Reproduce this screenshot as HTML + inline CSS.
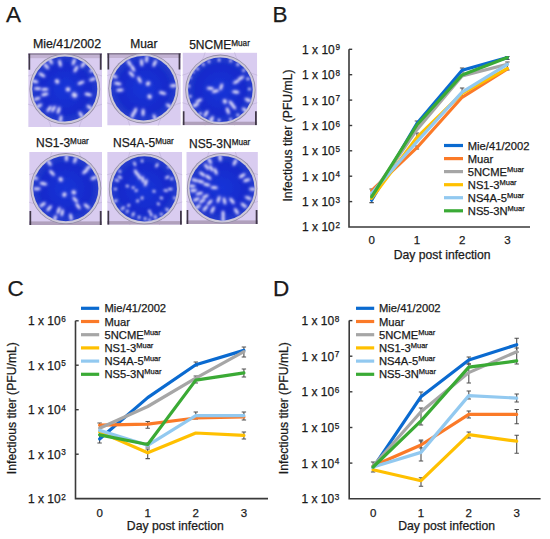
<!DOCTYPE html>
<html><head><meta charset="utf-8"><style>
html,body{margin:0;padding:0;background:#fff;}
body{width:550px;height:539px;overflow:hidden;}
svg{display:block;font-family:"Liberation Sans", sans-serif;} text{stroke:#1a1a1a;stroke-width:0.25px;}
</style></head><body>
<svg width="550" height="539" viewBox="0 0 550 539">
<text x="6" y="22.2" font-size="22.5" text-anchor="start" fill="#1a1a1a" >A</text>
<text x="272.5" y="22.2" font-size="22.5" text-anchor="start" fill="#1a1a1a" >B</text>
<text x="7.5" y="295.8" font-size="22.5" text-anchor="start" fill="#1a1a1a" >C</text>
<text x="273" y="295.8" font-size="22.5" text-anchor="start" fill="#1a1a1a" >D</text>
<defs><filter id="bl" x="-50%" y="-50%" width="200%" height="200%"><feGaussianBlur stdDeviation="1.0"/></filter><filter id="bl3" x="-50%" y="-50%" width="200%" height="200%"><feGaussianBlur stdDeviation="1.4"/></filter><filter id="bl2" x="-10%" y="-10%" width="120%" height="120%"><feGaussianBlur stdDeviation="0.6"/></filter><radialGradient id="bg" cx="50%" cy="50%" r="50%"><stop offset="0" stop-color="#1834d8"/><stop offset="0.75" stop-color="#122acc"/><stop offset="1" stop-color="#263ccc"/></radialGradient></defs>
<clipPath id="cp0"><rect x="28.2" y="53.2" width="73.8" height="73.8"/></clipPath><g clip-path="url(#cp0)">
<rect x="28.2" y="53.2" width="73.8" height="73.8" fill="#d9ccf0"/>
<g fill="none" stroke="#c4b8dc" stroke-width="0.8"><circle cx="20.2" cy="45.2" r="31.9"/><circle cx="110" cy="45.2" r="31.9"/><circle cx="20.2" cy="135" r="31.9"/><circle cx="110" cy="135" r="31.9"/></g>
<rect x="28.2" y="53.2" width="73.8" height="5" fill="#c2b2d2"/>
<rect x="28.2" y="53.2" width="73.8" height="1.6" fill="#8c8098"/>
<path d="M29.3,53.7 V69.7 M100.7,53.7 V69.7" stroke="#403848" stroke-width="1.8"/>
<circle cx="64.8" cy="89" r="35.4" fill="#938ca6"/>
<circle cx="64.8" cy="89" r="34.6" fill="#cdc8d8"/>
<circle cx="64.8" cy="89" r="32.5" fill="url(#bg)" filter="url(#bl2)"/>
<clipPath id="cc0"><circle cx="64.8" cy="89" r="33.2"/></clipPath><g clip-path="url(#cc0)">
<g fill="#5a64e0" opacity="0.7" filter="url(#bl3)"><ellipse cx="60.0" cy="63.3" rx="4.9" ry="2.7" transform="rotate(-101 60.0 63.3)"/><ellipse cx="73.8" cy="61.9" rx="4.9" ry="2.7" transform="rotate(-72 73.8 61.9)"/><ellipse cx="75.9" cy="69.1" rx="4.9" ry="2.7" transform="rotate(-61 75.9 69.1)"/><ellipse cx="83.2" cy="64.7" rx="4.9" ry="2.7" transform="rotate(-53 83.2 64.7)"/><ellipse cx="46.3" cy="66.2" rx="4.9" ry="2.7" transform="rotate(-129 46.3 66.2)"/><ellipse cx="41.9" cy="74.9" rx="4.9" ry="2.7" transform="rotate(-148 41.9 74.9)"/><ellipse cx="57.1" cy="81.4" rx="3.2" ry="3.4" transform="rotate(-135 57.1 81.4)"/><ellipse cx="81.0" cy="82.8" rx="4.9" ry="2.7" transform="rotate(-21 81.0 82.8)"/><ellipse cx="92.6" cy="79.2" rx="4.9" ry="2.7" transform="rotate(-19 92.6 79.2)"/><ellipse cx="68.0" cy="89.4" rx="3.2" ry="3.4" transform="rotate(6 68.0 89.4)"/><ellipse cx="74.5" cy="95.1" rx="4.0" ry="4.2" transform="rotate(32 74.5 95.1)"/><ellipse cx="88.2" cy="94.4" rx="4.9" ry="2.7" transform="rotate(13 88.2 94.4)"/><ellipse cx="34.7" cy="81.4" rx="4.9" ry="2.7" transform="rotate(-166 34.7 81.4)"/><ellipse cx="37.6" cy="88.6" rx="4.9" ry="2.7" transform="rotate(-179 37.6 88.6)"/><ellipse cx="44.8" cy="89.4" rx="4.9" ry="2.7" transform="rotate(179 44.8 89.4)"/><ellipse cx="44.8" cy="94.4" rx="4.9" ry="2.7" transform="rotate(165 44.8 94.4)"/><ellipse cx="36.9" cy="98.8" rx="4.9" ry="2.7" transform="rotate(161 36.9 98.8)"/><ellipse cx="49.2" cy="108.9" rx="4.9" ry="2.7" transform="rotate(128 49.2 108.9)"/><ellipse cx="53.5" cy="108.9" rx="4.9" ry="2.7" transform="rotate(120 53.5 108.9)"/><ellipse cx="58.6" cy="110.3" rx="4.9" ry="2.7" transform="rotate(106 58.6 110.3)"/><ellipse cx="81.0" cy="114.7" rx="4.9" ry="2.7" transform="rotate(58 81.0 114.7)"/><ellipse cx="89.7" cy="107.4" rx="4.9" ry="2.7" transform="rotate(37 89.7 107.4)"/><ellipse cx="39.0" cy="106.0" rx="4.9" ry="2.7" transform="rotate(147 39.0 106.0)"/><ellipse cx="60.7" cy="119.0" rx="4.9" ry="2.7" transform="rotate(98 60.7 119.0)"/><ellipse cx="50.6" cy="61.1" rx="4.9" ry="2.7" transform="rotate(-117 50.6 61.1)"/><ellipse cx="92.6" cy="69.8" rx="4.9" ry="2.7" transform="rotate(-35 92.6 69.8)"/></g>
<g fill="#d0d0f4" filter="url(#bl)"><ellipse cx="60.0" cy="63.3" rx="3.3" ry="1.4" transform="rotate(-101 60.0 63.3)"/><ellipse cx="73.8" cy="61.9" rx="3.3" ry="1.4" transform="rotate(-72 73.8 61.9)"/><ellipse cx="75.9" cy="69.1" rx="3.3" ry="1.4" transform="rotate(-61 75.9 69.1)"/><ellipse cx="83.2" cy="64.7" rx="3.3" ry="1.4" transform="rotate(-53 83.2 64.7)"/><ellipse cx="46.3" cy="66.2" rx="3.3" ry="1.4" transform="rotate(-129 46.3 66.2)"/><ellipse cx="41.9" cy="74.9" rx="3.3" ry="1.4" transform="rotate(-148 41.9 74.9)"/><ellipse cx="57.1" cy="81.4" rx="2.2" ry="1.8" transform="rotate(-135 57.1 81.4)"/><ellipse cx="81.0" cy="82.8" rx="3.3" ry="1.4" transform="rotate(-21 81.0 82.8)"/><ellipse cx="92.6" cy="79.2" rx="3.3" ry="1.4" transform="rotate(-19 92.6 79.2)"/><ellipse cx="68.0" cy="89.4" rx="2.2" ry="1.8" transform="rotate(6 68.0 89.4)"/><ellipse cx="74.5" cy="95.1" rx="2.7" ry="2.2" transform="rotate(32 74.5 95.1)"/><ellipse cx="88.2" cy="94.4" rx="3.3" ry="1.4" transform="rotate(13 88.2 94.4)"/><ellipse cx="34.7" cy="81.4" rx="3.3" ry="1.4" transform="rotate(-166 34.7 81.4)"/><ellipse cx="37.6" cy="88.6" rx="3.3" ry="1.4" transform="rotate(-179 37.6 88.6)"/><ellipse cx="44.8" cy="89.4" rx="3.3" ry="1.4" transform="rotate(179 44.8 89.4)"/><ellipse cx="44.8" cy="94.4" rx="3.3" ry="1.4" transform="rotate(165 44.8 94.4)"/><ellipse cx="36.9" cy="98.8" rx="3.3" ry="1.4" transform="rotate(161 36.9 98.8)"/><ellipse cx="49.2" cy="108.9" rx="3.3" ry="1.4" transform="rotate(128 49.2 108.9)"/><ellipse cx="53.5" cy="108.9" rx="3.3" ry="1.4" transform="rotate(120 53.5 108.9)"/><ellipse cx="58.6" cy="110.3" rx="3.3" ry="1.4" transform="rotate(106 58.6 110.3)"/><ellipse cx="81.0" cy="114.7" rx="3.3" ry="1.4" transform="rotate(58 81.0 114.7)"/><ellipse cx="89.7" cy="107.4" rx="3.3" ry="1.4" transform="rotate(37 89.7 107.4)"/><ellipse cx="39.0" cy="106.0" rx="3.3" ry="1.4" transform="rotate(147 39.0 106.0)"/><ellipse cx="60.7" cy="119.0" rx="3.3" ry="1.4" transform="rotate(98 60.7 119.0)"/><ellipse cx="50.6" cy="61.1" rx="3.3" ry="1.4" transform="rotate(-117 50.6 61.1)"/><ellipse cx="92.6" cy="69.8" rx="3.3" ry="1.4" transform="rotate(-35 92.6 69.8)"/></g></g></g>
<text x="32.9" y="48.1" font-size="12.4" text-anchor="start" fill="#1a1a1a" >Mie/41/2002</text>
<clipPath id="cp1"><rect x="107.2" y="53" width="73.6" height="72.5"/></clipPath><g clip-path="url(#cp1)">
<rect x="107.2" y="53" width="73.6" height="72.5" fill="#d9ccf0"/>
<g fill="none" stroke="#c4b8dc" stroke-width="0.8"><circle cx="99.2" cy="45" r="31.7"/><circle cx="188.8" cy="45" r="31.7"/><circle cx="99.2" cy="133.5" r="31.7"/><circle cx="188.8" cy="133.5" r="31.7"/></g>
<rect x="107.2" y="53" width="73.6" height="5" fill="#c2b2d2"/>
<rect x="107.2" y="53" width="73.6" height="1.6" fill="#8c8098"/>
<path d="M108.3,53.5 V69.5 M179.5,53.5 V69.5" stroke="#403848" stroke-width="1.8"/>
<circle cx="143.5" cy="88.2" r="35.2" fill="#938ca6"/>
<circle cx="143.5" cy="88.2" r="34.4" fill="#cdc8d8"/>
<circle cx="143.5" cy="88.2" r="32.3" fill="url(#bg)" filter="url(#bl2)"/>
<clipPath id="cc1"><circle cx="143.5" cy="88.2" r="33.0"/></clipPath><g clip-path="url(#cc1)">
<g fill="#5a64e0" opacity="0.7" filter="url(#bl3)"><ellipse cx="132.9" cy="68.4" rx="4.9" ry="2.7" transform="rotate(-118 132.9 68.4)"/><ellipse cx="131.5" cy="74.2" rx="4.9" ry="2.7" transform="rotate(-131 131.5 74.2)"/><ellipse cx="129.3" cy="63.3" rx="4.9" ry="2.7" transform="rotate(-120 129.3 63.3)"/><ellipse cx="141.6" cy="62.6" rx="4.9" ry="2.7" transform="rotate(-94 141.6 62.6)"/><ellipse cx="146.7" cy="59.0" rx="4.9" ry="2.7" transform="rotate(-84 146.7 59.0)"/><ellipse cx="154.7" cy="63.3" rx="4.9" ry="2.7" transform="rotate(-66 154.7 63.3)"/><ellipse cx="114.1" cy="76.3" rx="4.9" ry="2.7" transform="rotate(-158 114.1 76.3)"/><ellipse cx="117.7" cy="83.6" rx="4.9" ry="2.7" transform="rotate(-170 117.7 83.6)"/><ellipse cx="119.9" cy="90.1" rx="4.9" ry="2.7" transform="rotate(175 119.9 90.1)"/><ellipse cx="139.5" cy="79.9" rx="4.9" ry="2.7" transform="rotate(-116 139.5 79.9)"/><ellipse cx="148.1" cy="83.6" rx="3.2" ry="3.4" transform="rotate(-45 148.1 83.6)"/><ellipse cx="173.5" cy="85.7" rx="4.9" ry="2.7" transform="rotate(-5 173.5 85.7)"/><ellipse cx="162.6" cy="93.0" rx="4.9" ry="2.7" transform="rotate(14 162.6 93.0)"/><ellipse cx="149.6" cy="96.6" rx="3.2" ry="3.4" transform="rotate(54 149.6 96.6)"/><ellipse cx="135.1" cy="111.1" rx="4.9" ry="2.7" transform="rotate(110 135.1 111.1)"/><ellipse cx="143.1" cy="112.5" rx="4.9" ry="2.7" transform="rotate(91 143.1 112.5)"/><ellipse cx="154.7" cy="117.6" rx="4.9" ry="2.7" transform="rotate(69 154.7 117.6)"/><ellipse cx="132.9" cy="114.7" rx="4.9" ry="2.7" transform="rotate(112 132.9 114.7)"/><ellipse cx="169.1" cy="106.0" rx="4.9" ry="2.7" transform="rotate(35 169.1 106.0)"/></g>
<g fill="#d0d0f4" filter="url(#bl)"><ellipse cx="132.9" cy="68.4" rx="3.3" ry="1.4" transform="rotate(-118 132.9 68.4)"/><ellipse cx="131.5" cy="74.2" rx="3.3" ry="1.4" transform="rotate(-131 131.5 74.2)"/><ellipse cx="129.3" cy="63.3" rx="3.3" ry="1.4" transform="rotate(-120 129.3 63.3)"/><ellipse cx="141.6" cy="62.6" rx="3.3" ry="1.4" transform="rotate(-94 141.6 62.6)"/><ellipse cx="146.7" cy="59.0" rx="3.3" ry="1.4" transform="rotate(-84 146.7 59.0)"/><ellipse cx="154.7" cy="63.3" rx="3.3" ry="1.4" transform="rotate(-66 154.7 63.3)"/><ellipse cx="114.1" cy="76.3" rx="3.3" ry="1.4" transform="rotate(-158 114.1 76.3)"/><ellipse cx="117.7" cy="83.6" rx="3.3" ry="1.4" transform="rotate(-170 117.7 83.6)"/><ellipse cx="119.9" cy="90.1" rx="3.3" ry="1.4" transform="rotate(175 119.9 90.1)"/><ellipse cx="139.5" cy="79.9" rx="3.3" ry="1.4" transform="rotate(-116 139.5 79.9)"/><ellipse cx="148.1" cy="83.6" rx="2.2" ry="1.8" transform="rotate(-45 148.1 83.6)"/><ellipse cx="173.5" cy="85.7" rx="3.3" ry="1.4" transform="rotate(-5 173.5 85.7)"/><ellipse cx="162.6" cy="93.0" rx="3.3" ry="1.4" transform="rotate(14 162.6 93.0)"/><ellipse cx="149.6" cy="96.6" rx="2.2" ry="1.8" transform="rotate(54 149.6 96.6)"/><ellipse cx="135.1" cy="111.1" rx="3.3" ry="1.4" transform="rotate(110 135.1 111.1)"/><ellipse cx="143.1" cy="112.5" rx="3.3" ry="1.4" transform="rotate(91 143.1 112.5)"/><ellipse cx="154.7" cy="117.6" rx="3.3" ry="1.4" transform="rotate(69 154.7 117.6)"/><ellipse cx="132.9" cy="114.7" rx="3.3" ry="1.4" transform="rotate(112 132.9 114.7)"/><ellipse cx="169.1" cy="106.0" rx="3.3" ry="1.4" transform="rotate(35 169.1 106.0)"/></g></g></g>
<text x="130.2" y="48.2" font-size="12" text-anchor="start" fill="#1a1a1a" >Muar</text>
<clipPath id="cp2"><rect x="182.5" y="52.6" width="74.7" height="72.7"/></clipPath><g clip-path="url(#cp2)">
<rect x="182.5" y="52.6" width="74.7" height="72.7" fill="#d9ccf0"/>
<g fill="none" stroke="#c4b8dc" stroke-width="0.8"><circle cx="174.5" cy="44.6" r="31.7"/><circle cx="265.2" cy="44.6" r="31.7"/><circle cx="174.5" cy="133.3" r="31.7"/><circle cx="265.2" cy="133.3" r="31.7"/></g>
<rect x="182.5" y="121.7" width="74.7" height="3.6" fill="#b0a0bc"/>
<path d="M183.6,125.3 V111.3 M255.89999999999998,125.3 V111.3" stroke="#403848" stroke-width="1.8"/>
<circle cx="220.4" cy="89.8" r="35.2" fill="#938ca6"/>
<circle cx="220.4" cy="89.8" r="34.4" fill="#cdc8d8"/>
<circle cx="220.4" cy="89.8" r="32.3" fill="url(#bg)" filter="url(#bl2)"/>
<clipPath id="cc2"><circle cx="220.4" cy="89.8" r="33.0"/></clipPath><g clip-path="url(#cc2)">
<g fill="#5a64e0" opacity="0.7" filter="url(#bl3)"><ellipse cx="197.4" cy="68.8" rx="2.2" ry="2.1" transform="rotate(-138 197.4 68.8)"/><ellipse cx="203.2" cy="64.5" rx="2.2" ry="2.1" transform="rotate(-124 203.2 64.5)"/><ellipse cx="208.9" cy="61.6" rx="2.2" ry="2.1" transform="rotate(-112 208.9 61.6)"/><ellipse cx="219.1" cy="60.1" rx="2.2" ry="2.1" transform="rotate(-93 219.1 60.1)"/><ellipse cx="230.7" cy="60.9" rx="2.2" ry="2.1" transform="rotate(-70 230.7 60.9)"/><ellipse cx="237.9" cy="64.5" rx="2.2" ry="2.1" transform="rotate(-55 237.9 64.5)"/><ellipse cx="243.7" cy="70.3" rx="2.2" ry="2.1" transform="rotate(-40 243.7 70.3)"/><ellipse cx="248.0" cy="78.9" rx="2.2" ry="2.1" transform="rotate(-21 248.0 78.9)"/><ellipse cx="249.5" cy="89.1" rx="2.2" ry="2.1" transform="rotate(-1 249.5 89.1)"/><ellipse cx="248.0" cy="100.7" rx="2.2" ry="2.1" transform="rotate(21 248.0 100.7)"/><ellipse cx="243.7" cy="109.3" rx="2.2" ry="2.1" transform="rotate(40 243.7 109.3)"/><ellipse cx="237.9" cy="115.1" rx="2.2" ry="2.1" transform="rotate(55 237.9 115.1)"/><ellipse cx="230.7" cy="119.5" rx="2.2" ry="2.1" transform="rotate(71 230.7 119.5)"/><ellipse cx="219.1" cy="120.2" rx="2.2" ry="2.1" transform="rotate(92 219.1 120.2)"/><ellipse cx="210.4" cy="119.5" rx="2.2" ry="2.1" transform="rotate(109 210.4 119.5)"/><ellipse cx="200.3" cy="113.7" rx="2.2" ry="2.1" transform="rotate(130 200.3 113.7)"/><ellipse cx="194.5" cy="105.0" rx="2.2" ry="2.1" transform="rotate(150 194.5 105.0)"/><ellipse cx="190.1" cy="96.3" rx="2.2" ry="2.1" transform="rotate(168 190.1 96.3)"/><ellipse cx="188.7" cy="86.2" rx="2.2" ry="2.1" transform="rotate(-173 188.7 86.2)"/><ellipse cx="190.1" cy="77.5" rx="2.2" ry="2.1" transform="rotate(-158 190.1 77.5)"/><ellipse cx="193.0" cy="71.7" rx="2.2" ry="2.1" transform="rotate(-147 193.0 71.7)"/><ellipse cx="240.8" cy="78.2" rx="4.9" ry="2.7" transform="rotate(-30 240.8 78.2)"/><ellipse cx="236.4" cy="81.8" rx="4.9" ry="2.7" transform="rotate(-26 236.4 81.8)"/><ellipse cx="210.4" cy="88.4" rx="4.9" ry="2.7" transform="rotate(-172 210.4 88.4)"/><ellipse cx="215.5" cy="91.2" rx="4.9" ry="2.7" transform="rotate(164 215.5 91.2)"/><ellipse cx="221.2" cy="86.9" rx="4.9" ry="2.7" transform="rotate(-74 221.2 86.9)"/><ellipse cx="235.7" cy="92.0" rx="4.9" ry="2.7" transform="rotate(8 235.7 92.0)"/><ellipse cx="224.9" cy="101.4" rx="3.2" ry="3.4" transform="rotate(69 224.9 101.4)"/><ellipse cx="233.5" cy="106.4" rx="4.9" ry="2.7" transform="rotate(52 233.5 106.4)"/><ellipse cx="231.4" cy="103.5" rx="4.9" ry="2.7" transform="rotate(51 231.4 103.5)"/><ellipse cx="198.8" cy="100.7" rx="4.9" ry="2.7" transform="rotate(153 198.8 100.7)"/><ellipse cx="195.9" cy="105.0" rx="4.9" ry="2.7" transform="rotate(148 195.9 105.0)"/><ellipse cx="206.0" cy="113.7" rx="4.9" ry="2.7" transform="rotate(121 206.0 113.7)"/><ellipse cx="227.8" cy="110.8" rx="4.9" ry="2.7" transform="rotate(71 227.8 110.8)"/><ellipse cx="245.1" cy="110.1" rx="4.9" ry="2.7" transform="rotate(39 245.1 110.1)"/><ellipse cx="248.0" cy="99.9" rx="4.9" ry="2.7" transform="rotate(20 248.0 99.9)"/><ellipse cx="211.8" cy="119.5" rx="4.9" ry="2.7" transform="rotate(106 211.8 119.5)"/></g>
<g fill="#d0d0f4" filter="url(#bl)"><ellipse cx="197.4" cy="68.8" rx="1.5" ry="1.1" transform="rotate(-138 197.4 68.8)"/><ellipse cx="203.2" cy="64.5" rx="1.5" ry="1.1" transform="rotate(-124 203.2 64.5)"/><ellipse cx="208.9" cy="61.6" rx="1.5" ry="1.1" transform="rotate(-112 208.9 61.6)"/><ellipse cx="219.1" cy="60.1" rx="1.5" ry="1.1" transform="rotate(-93 219.1 60.1)"/><ellipse cx="230.7" cy="60.9" rx="1.5" ry="1.1" transform="rotate(-70 230.7 60.9)"/><ellipse cx="237.9" cy="64.5" rx="1.5" ry="1.1" transform="rotate(-55 237.9 64.5)"/><ellipse cx="243.7" cy="70.3" rx="1.5" ry="1.1" transform="rotate(-40 243.7 70.3)"/><ellipse cx="248.0" cy="78.9" rx="1.5" ry="1.1" transform="rotate(-21 248.0 78.9)"/><ellipse cx="249.5" cy="89.1" rx="1.5" ry="1.1" transform="rotate(-1 249.5 89.1)"/><ellipse cx="248.0" cy="100.7" rx="1.5" ry="1.1" transform="rotate(21 248.0 100.7)"/><ellipse cx="243.7" cy="109.3" rx="1.5" ry="1.1" transform="rotate(40 243.7 109.3)"/><ellipse cx="237.9" cy="115.1" rx="1.5" ry="1.1" transform="rotate(55 237.9 115.1)"/><ellipse cx="230.7" cy="119.5" rx="1.5" ry="1.1" transform="rotate(71 230.7 119.5)"/><ellipse cx="219.1" cy="120.2" rx="1.5" ry="1.1" transform="rotate(92 219.1 120.2)"/><ellipse cx="210.4" cy="119.5" rx="1.5" ry="1.1" transform="rotate(109 210.4 119.5)"/><ellipse cx="200.3" cy="113.7" rx="1.5" ry="1.1" transform="rotate(130 200.3 113.7)"/><ellipse cx="194.5" cy="105.0" rx="1.5" ry="1.1" transform="rotate(150 194.5 105.0)"/><ellipse cx="190.1" cy="96.3" rx="1.5" ry="1.1" transform="rotate(168 190.1 96.3)"/><ellipse cx="188.7" cy="86.2" rx="1.5" ry="1.1" transform="rotate(-173 188.7 86.2)"/><ellipse cx="190.1" cy="77.5" rx="1.5" ry="1.1" transform="rotate(-158 190.1 77.5)"/><ellipse cx="193.0" cy="71.7" rx="1.5" ry="1.1" transform="rotate(-147 193.0 71.7)"/><ellipse cx="240.8" cy="78.2" rx="3.3" ry="1.4" transform="rotate(-30 240.8 78.2)"/><ellipse cx="236.4" cy="81.8" rx="3.3" ry="1.4" transform="rotate(-26 236.4 81.8)"/><ellipse cx="210.4" cy="88.4" rx="3.3" ry="1.4" transform="rotate(-172 210.4 88.4)"/><ellipse cx="215.5" cy="91.2" rx="3.3" ry="1.4" transform="rotate(164 215.5 91.2)"/><ellipse cx="221.2" cy="86.9" rx="3.3" ry="1.4" transform="rotate(-74 221.2 86.9)"/><ellipse cx="235.7" cy="92.0" rx="3.3" ry="1.4" transform="rotate(8 235.7 92.0)"/><ellipse cx="224.9" cy="101.4" rx="2.2" ry="1.8" transform="rotate(69 224.9 101.4)"/><ellipse cx="233.5" cy="106.4" rx="3.3" ry="1.4" transform="rotate(52 233.5 106.4)"/><ellipse cx="231.4" cy="103.5" rx="3.3" ry="1.4" transform="rotate(51 231.4 103.5)"/><ellipse cx="198.8" cy="100.7" rx="3.3" ry="1.4" transform="rotate(153 198.8 100.7)"/><ellipse cx="195.9" cy="105.0" rx="3.3" ry="1.4" transform="rotate(148 195.9 105.0)"/><ellipse cx="206.0" cy="113.7" rx="3.3" ry="1.4" transform="rotate(121 206.0 113.7)"/><ellipse cx="227.8" cy="110.8" rx="3.3" ry="1.4" transform="rotate(71 227.8 110.8)"/><ellipse cx="245.1" cy="110.1" rx="3.3" ry="1.4" transform="rotate(39 245.1 110.1)"/><ellipse cx="248.0" cy="99.9" rx="3.3" ry="1.4" transform="rotate(20 248.0 99.9)"/><ellipse cx="211.8" cy="119.5" rx="3.3" ry="1.4" transform="rotate(106 211.8 119.5)"/></g></g></g>
<text x="189.2" y="49.1" font-size="12" text-anchor="start" fill="#1a1a1a" >5NCME<tspan font-size="8.2" dy="-3">Muar</tspan></text>
<clipPath id="cp3"><rect x="29.2" y="151.9" width="72.8" height="73.1"/></clipPath><g clip-path="url(#cp3)">
<rect x="29.2" y="151.9" width="72.8" height="73.1" fill="#d9ccf0"/>
<g fill="none" stroke="#c4b8dc" stroke-width="0.8"><circle cx="21.2" cy="143.9" r="31.9"/><circle cx="110" cy="143.9" r="31.9"/><circle cx="21.2" cy="233" r="31.9"/><circle cx="110" cy="233" r="31.9"/></g>
<rect x="29.2" y="221.4" width="72.8" height="3.6" fill="#b0a0bc"/>
<path d="M30.3,225 V211 M100.7,225 V211" stroke="#403848" stroke-width="1.8"/>
<circle cx="65.8" cy="188.6" r="35.5" fill="#938ca6"/>
<circle cx="65.8" cy="188.6" r="34.7" fill="#cdc8d8"/>
<circle cx="65.8" cy="188.6" r="32.6" fill="url(#bg)" filter="url(#bl2)"/>
<clipPath id="cc3"><circle cx="65.8" cy="188.6" r="33.3"/></clipPath><g clip-path="url(#cc3)">
<g fill="#5a64e0" opacity="0.7" filter="url(#bl3)"><ellipse cx="52.0" cy="172.9" rx="4.9" ry="2.7" transform="rotate(-131 52.0 172.9)"/><ellipse cx="60.7" cy="179.4" rx="3.2" ry="3.4" transform="rotate(-119 60.7 179.4)"/><ellipse cx="85.3" cy="171.4" rx="4.9" ry="2.7" transform="rotate(-41 85.3 171.4)"/><ellipse cx="43.4" cy="183.7" rx="4.9" ry="2.7" transform="rotate(-168 43.4 183.7)"/><ellipse cx="36.9" cy="188.8" rx="4.9" ry="2.7" transform="rotate(180 36.9 188.8)"/><ellipse cx="73.8" cy="192.4" rx="3.2" ry="3.4" transform="rotate(26 73.8 192.4)"/><ellipse cx="64.4" cy="194.6" rx="3.2" ry="3.4" transform="rotate(104 64.4 194.6)"/><ellipse cx="75.2" cy="199.7" rx="4.9" ry="2.7" transform="rotate(50 75.2 199.7)"/><ellipse cx="78.1" cy="206.2" rx="4.9" ry="2.7" transform="rotate(55 78.1 206.2)"/><ellipse cx="86.8" cy="206.2" rx="4.9" ry="2.7" transform="rotate(40 86.8 206.2)"/><ellipse cx="42.6" cy="204.7" rx="4.9" ry="2.7" transform="rotate(145 42.6 204.7)"/><ellipse cx="49.2" cy="208.3" rx="4.9" ry="2.7" transform="rotate(130 49.2 208.3)"/><ellipse cx="58.6" cy="210.5" rx="4.9" ry="2.7" transform="rotate(108 58.6 210.5)"/><ellipse cx="62.2" cy="212.7" rx="4.9" ry="2.7" transform="rotate(99 62.2 212.7)"/><ellipse cx="70.9" cy="217.0" rx="4.9" ry="2.7" transform="rotate(80 70.9 217.0)"/><ellipse cx="54.9" cy="218.5" rx="4.9" ry="2.7" transform="rotate(110 54.9 218.5)"/><ellipse cx="94.0" cy="177.9" rx="4.9" ry="2.7" transform="rotate(-21 94.0 177.9)"/><ellipse cx="34.7" cy="177.9" rx="4.9" ry="2.7" transform="rotate(-161 34.7 177.9)"/><ellipse cx="75.2" cy="159.9" rx="4.9" ry="2.7" transform="rotate(-72 75.2 159.9)"/><ellipse cx="49.2" cy="162.7" rx="4.9" ry="2.7" transform="rotate(-123 49.2 162.7)"/><ellipse cx="88.2" cy="167.8" rx="4.9" ry="2.7" transform="rotate(-43 88.2 167.8)"/><ellipse cx="66.5" cy="157.7" rx="4.9" ry="2.7" transform="rotate(-89 66.5 157.7)"/></g>
<g fill="#d0d0f4" filter="url(#bl)"><ellipse cx="52.0" cy="172.9" rx="3.3" ry="1.4" transform="rotate(-131 52.0 172.9)"/><ellipse cx="60.7" cy="179.4" rx="2.2" ry="1.8" transform="rotate(-119 60.7 179.4)"/><ellipse cx="85.3" cy="171.4" rx="3.3" ry="1.4" transform="rotate(-41 85.3 171.4)"/><ellipse cx="43.4" cy="183.7" rx="3.3" ry="1.4" transform="rotate(-168 43.4 183.7)"/><ellipse cx="36.9" cy="188.8" rx="3.3" ry="1.4" transform="rotate(180 36.9 188.8)"/><ellipse cx="73.8" cy="192.4" rx="2.2" ry="1.8" transform="rotate(26 73.8 192.4)"/><ellipse cx="64.4" cy="194.6" rx="2.2" ry="1.8" transform="rotate(104 64.4 194.6)"/><ellipse cx="75.2" cy="199.7" rx="3.3" ry="1.4" transform="rotate(50 75.2 199.7)"/><ellipse cx="78.1" cy="206.2" rx="3.3" ry="1.4" transform="rotate(55 78.1 206.2)"/><ellipse cx="86.8" cy="206.2" rx="3.3" ry="1.4" transform="rotate(40 86.8 206.2)"/><ellipse cx="42.6" cy="204.7" rx="3.3" ry="1.4" transform="rotate(145 42.6 204.7)"/><ellipse cx="49.2" cy="208.3" rx="3.3" ry="1.4" transform="rotate(130 49.2 208.3)"/><ellipse cx="58.6" cy="210.5" rx="3.3" ry="1.4" transform="rotate(108 58.6 210.5)"/><ellipse cx="62.2" cy="212.7" rx="3.3" ry="1.4" transform="rotate(99 62.2 212.7)"/><ellipse cx="70.9" cy="217.0" rx="3.3" ry="1.4" transform="rotate(80 70.9 217.0)"/><ellipse cx="54.9" cy="218.5" rx="3.3" ry="1.4" transform="rotate(110 54.9 218.5)"/><ellipse cx="94.0" cy="177.9" rx="3.3" ry="1.4" transform="rotate(-21 94.0 177.9)"/><ellipse cx="34.7" cy="177.9" rx="3.3" ry="1.4" transform="rotate(-161 34.7 177.9)"/><ellipse cx="75.2" cy="159.9" rx="3.3" ry="1.4" transform="rotate(-72 75.2 159.9)"/><ellipse cx="49.2" cy="162.7" rx="3.3" ry="1.4" transform="rotate(-123 49.2 162.7)"/><ellipse cx="88.2" cy="167.8" rx="3.3" ry="1.4" transform="rotate(-43 88.2 167.8)"/><ellipse cx="66.5" cy="157.7" rx="3.3" ry="1.4" transform="rotate(-89 66.5 157.7)"/></g></g></g>
<text x="36.1" y="146.8" font-size="12" text-anchor="start" fill="#1a1a1a" >NS1-3<tspan font-size="8.2" dy="-3">Muar</tspan></text>
<clipPath id="cp4"><rect x="107.2" y="152" width="75.0" height="72.7"/></clipPath><g clip-path="url(#cp4)">
<rect x="107.2" y="152" width="75.0" height="72.7" fill="#d9ccf0"/>
<g fill="none" stroke="#c4b8dc" stroke-width="0.8"><circle cx="99.2" cy="144" r="31.9"/><circle cx="190.2" cy="144" r="31.9"/><circle cx="99.2" cy="232.7" r="31.9"/><circle cx="190.2" cy="232.7" r="31.9"/></g>
<rect x="107.2" y="221.1" width="75.0" height="3.6" fill="#b0a0bc"/>
<path d="M108.3,224.7 V210.7 M180.89999999999998,224.7 V210.7" stroke="#403848" stroke-width="1.8"/>
<circle cx="144.3" cy="188.9" r="35.5" fill="#938ca6"/>
<circle cx="144.3" cy="188.9" r="34.7" fill="#cdc8d8"/>
<circle cx="144.3" cy="188.9" r="32.6" fill="url(#bg)" filter="url(#bl2)"/>
<clipPath id="cc4"><circle cx="144.3" cy="188.9" r="33.3"/></clipPath><g clip-path="url(#cc4)">
<g fill="#5a64e0" opacity="0.7" filter="url(#bl3)"><ellipse cx="136.2" cy="172.7" rx="4.9" ry="2.7" transform="rotate(-117 136.2 172.7)"/><ellipse cx="139.1" cy="176.4" rx="4.9" ry="2.7" transform="rotate(-113 139.1 176.4)"/><ellipse cx="142.8" cy="179.4" rx="4.9" ry="2.7" transform="rotate(-99 142.8 179.4)"/><ellipse cx="145.8" cy="182.8" rx="4.9" ry="2.7" transform="rotate(-76 145.8 182.8)"/><ellipse cx="142.1" cy="160.9" rx="2.2" ry="2.1" transform="rotate(-95 142.1 160.9)"/><ellipse cx="156.9" cy="165.3" rx="3.2" ry="2.1" transform="rotate(-62 156.9 165.3)"/><ellipse cx="167.3" cy="177.2" rx="3.2" ry="2.1" transform="rotate(-27 167.3 177.2)"/><ellipse cx="170.3" cy="189.1" rx="3.2" ry="2.1" transform="rotate(0 170.3 189.1)"/><ellipse cx="174.7" cy="198.0" rx="2.2" ry="2.1" transform="rotate(17 174.7 198.0)"/><ellipse cx="161.4" cy="198.0" rx="2.2" ry="2.1" transform="rotate(28 161.4 198.0)"/><ellipse cx="154.0" cy="191.3" rx="2.2" ry="2.1" transform="rotate(14 154.0 191.3)"/><ellipse cx="142.1" cy="198.0" rx="2.2" ry="2.1" transform="rotate(104 142.1 198.0)"/><ellipse cx="136.2" cy="190.5" rx="2.2" ry="2.1" transform="rotate(169 136.2 190.5)"/><ellipse cx="127.3" cy="186.1" rx="2.2" ry="2.1" transform="rotate(-171 127.3 186.1)"/><ellipse cx="116.9" cy="180.2" rx="3.2" ry="2.1" transform="rotate(-162 116.9 180.2)"/><ellipse cx="115.4" cy="189.1" rx="2.2" ry="2.1" transform="rotate(180 115.4 189.1)"/><ellipse cx="115.4" cy="200.9" rx="3.2" ry="2.1" transform="rotate(157 115.4 200.9)"/><ellipse cx="122.8" cy="208.3" rx="3.2" ry="2.1" transform="rotate(138 122.8 208.3)"/><ellipse cx="127.3" cy="211.3" rx="2.2" ry="2.1" transform="rotate(127 127.3 211.3)"/><ellipse cx="133.2" cy="214.3" rx="3.2" ry="2.1" transform="rotate(114 133.2 214.3)"/><ellipse cx="139.1" cy="217.2" rx="2.2" ry="2.1" transform="rotate(100 139.1 217.2)"/><ellipse cx="145.1" cy="218.7" rx="2.2" ry="2.1" transform="rotate(89 145.1 218.7)"/><ellipse cx="151.0" cy="214.3" rx="3.2" ry="2.1" transform="rotate(75 151.0 214.3)"/><ellipse cx="155.4" cy="217.2" rx="3.2" ry="2.1" transform="rotate(69 155.4 217.2)"/><ellipse cx="161.4" cy="214.3" rx="2.2" ry="2.1" transform="rotate(56 161.4 214.3)"/><ellipse cx="167.3" cy="209.8" rx="3.2" ry="2.1" transform="rotate(42 167.3 209.8)"/><ellipse cx="134.7" cy="163.8" rx="3.2" ry="2.1" transform="rotate(-111 134.7 163.8)"/><ellipse cx="119.8" cy="171.3" rx="2.2" ry="2.1" transform="rotate(-144 119.8 171.3)"/><ellipse cx="168.8" cy="166.8" rx="2.2" ry="2.1" transform="rotate(-42 168.8 166.8)"/><ellipse cx="158.4" cy="203.9" rx="2.2" ry="2.1" transform="rotate(47 158.4 203.9)"/><ellipse cx="137.6" cy="200.9" rx="2.2" ry="2.1" transform="rotate(119 137.6 200.9)"/><ellipse cx="149.5" cy="220.2" rx="2.2" ry="2.1" transform="rotate(81 149.5 220.2)"/><ellipse cx="171.8" cy="178.7" rx="2.2" ry="2.1" transform="rotate(-20 171.8 178.7)"/><ellipse cx="119.8" cy="177.2" rx="3.2" ry="2.1" transform="rotate(-154 119.8 177.2)"/><ellipse cx="128.7" cy="205.4" rx="2.2" ry="2.1" transform="rotate(133 128.7 205.4)"/><ellipse cx="149.5" cy="211.3" rx="2.2" ry="2.1" transform="rotate(77 149.5 211.3)"/><ellipse cx="165.8" cy="190.5" rx="3.2" ry="2.1" transform="rotate(4 165.8 190.5)"/><ellipse cx="133.2" cy="187.6" rx="2.2" ry="2.1" transform="rotate(-173 133.2 187.6)"/></g>
<g fill="#d0d0f4" filter="url(#bl)"><ellipse cx="136.2" cy="172.7" rx="3.3" ry="1.4" transform="rotate(-117 136.2 172.7)"/><ellipse cx="139.1" cy="176.4" rx="3.3" ry="1.4" transform="rotate(-113 139.1 176.4)"/><ellipse cx="142.8" cy="179.4" rx="3.3" ry="1.4" transform="rotate(-99 142.8 179.4)"/><ellipse cx="145.8" cy="182.8" rx="3.3" ry="1.4" transform="rotate(-76 145.8 182.8)"/><ellipse cx="142.1" cy="160.9" rx="1.5" ry="1.1" transform="rotate(-95 142.1 160.9)"/><ellipse cx="156.9" cy="165.3" rx="2.2" ry="1.1" transform="rotate(-62 156.9 165.3)"/><ellipse cx="167.3" cy="177.2" rx="2.2" ry="1.1" transform="rotate(-27 167.3 177.2)"/><ellipse cx="170.3" cy="189.1" rx="2.2" ry="1.1" transform="rotate(0 170.3 189.1)"/><ellipse cx="174.7" cy="198.0" rx="1.5" ry="1.1" transform="rotate(17 174.7 198.0)"/><ellipse cx="161.4" cy="198.0" rx="1.5" ry="1.1" transform="rotate(28 161.4 198.0)"/><ellipse cx="154.0" cy="191.3" rx="1.5" ry="1.1" transform="rotate(14 154.0 191.3)"/><ellipse cx="142.1" cy="198.0" rx="1.5" ry="1.1" transform="rotate(104 142.1 198.0)"/><ellipse cx="136.2" cy="190.5" rx="1.5" ry="1.1" transform="rotate(169 136.2 190.5)"/><ellipse cx="127.3" cy="186.1" rx="1.5" ry="1.1" transform="rotate(-171 127.3 186.1)"/><ellipse cx="116.9" cy="180.2" rx="2.2" ry="1.1" transform="rotate(-162 116.9 180.2)"/><ellipse cx="115.4" cy="189.1" rx="1.5" ry="1.1" transform="rotate(180 115.4 189.1)"/><ellipse cx="115.4" cy="200.9" rx="2.2" ry="1.1" transform="rotate(157 115.4 200.9)"/><ellipse cx="122.8" cy="208.3" rx="2.2" ry="1.1" transform="rotate(138 122.8 208.3)"/><ellipse cx="127.3" cy="211.3" rx="1.5" ry="1.1" transform="rotate(127 127.3 211.3)"/><ellipse cx="133.2" cy="214.3" rx="2.2" ry="1.1" transform="rotate(114 133.2 214.3)"/><ellipse cx="139.1" cy="217.2" rx="1.5" ry="1.1" transform="rotate(100 139.1 217.2)"/><ellipse cx="145.1" cy="218.7" rx="1.5" ry="1.1" transform="rotate(89 145.1 218.7)"/><ellipse cx="151.0" cy="214.3" rx="2.2" ry="1.1" transform="rotate(75 151.0 214.3)"/><ellipse cx="155.4" cy="217.2" rx="2.2" ry="1.1" transform="rotate(69 155.4 217.2)"/><ellipse cx="161.4" cy="214.3" rx="1.5" ry="1.1" transform="rotate(56 161.4 214.3)"/><ellipse cx="167.3" cy="209.8" rx="2.2" ry="1.1" transform="rotate(42 167.3 209.8)"/><ellipse cx="134.7" cy="163.8" rx="2.2" ry="1.1" transform="rotate(-111 134.7 163.8)"/><ellipse cx="119.8" cy="171.3" rx="1.5" ry="1.1" transform="rotate(-144 119.8 171.3)"/><ellipse cx="168.8" cy="166.8" rx="1.5" ry="1.1" transform="rotate(-42 168.8 166.8)"/><ellipse cx="158.4" cy="203.9" rx="1.5" ry="1.1" transform="rotate(47 158.4 203.9)"/><ellipse cx="137.6" cy="200.9" rx="1.5" ry="1.1" transform="rotate(119 137.6 200.9)"/><ellipse cx="149.5" cy="220.2" rx="1.5" ry="1.1" transform="rotate(81 149.5 220.2)"/><ellipse cx="171.8" cy="178.7" rx="1.5" ry="1.1" transform="rotate(-20 171.8 178.7)"/><ellipse cx="119.8" cy="177.2" rx="2.2" ry="1.1" transform="rotate(-154 119.8 177.2)"/><ellipse cx="128.7" cy="205.4" rx="1.5" ry="1.1" transform="rotate(133 128.7 205.4)"/><ellipse cx="149.5" cy="211.3" rx="1.5" ry="1.1" transform="rotate(77 149.5 211.3)"/><ellipse cx="165.8" cy="190.5" rx="2.2" ry="1.1" transform="rotate(4 165.8 190.5)"/><ellipse cx="133.2" cy="187.6" rx="1.5" ry="1.1" transform="rotate(-173 133.2 187.6)"/></g></g></g>
<text x="113.1" y="146.8" font-size="12" text-anchor="start" fill="#1a1a1a" >NS4A-5<tspan font-size="8.2" dy="-3">Muar</tspan></text>
<clipPath id="cp5"><rect x="186.3" y="152" width="71.6" height="72.0"/></clipPath><g clip-path="url(#cp5)">
<rect x="186.3" y="152" width="71.6" height="72.0" fill="#d9ccf0"/>
<g fill="none" stroke="#c4b8dc" stroke-width="0.8"><circle cx="178.3" cy="144" r="31.7"/><circle cx="265.9" cy="144" r="31.7"/><circle cx="178.3" cy="232" r="31.7"/><circle cx="265.9" cy="232" r="31.7"/></g>
<rect x="186.3" y="220.4" width="71.6" height="3.6" fill="#b0a0bc"/>
<path d="M187.4,224 V210 M256.59999999999997,224 V210" stroke="#403848" stroke-width="1.8"/>
<circle cx="222.1" cy="188.2" r="35.2" fill="#938ca6"/>
<circle cx="222.1" cy="188.2" r="34.4" fill="#cdc8d8"/>
<circle cx="222.1" cy="188.2" r="32.3" fill="url(#bg)" filter="url(#bl2)"/>
<clipPath id="cc5"><circle cx="222.1" cy="188.2" r="33.0"/></clipPath><g clip-path="url(#cc5)">
<g fill="#5a64e0" opacity="0.7" filter="url(#bl3)"><ellipse cx="206.7" cy="166.8" rx="4.9" ry="2.7" transform="rotate(-126 206.7 166.8)"/><ellipse cx="211.2" cy="168.3" rx="4.9" ry="2.7" transform="rotate(-119 211.2 168.3)"/><ellipse cx="215.6" cy="171.3" rx="4.9" ry="2.7" transform="rotate(-111 215.6 171.3)"/><ellipse cx="202.3" cy="174.2" rx="4.9" ry="2.7" transform="rotate(-145 202.3 174.2)"/><ellipse cx="208.2" cy="177.2" rx="4.9" ry="2.7" transform="rotate(-142 208.2 177.2)"/><ellipse cx="194.9" cy="180.2" rx="4.9" ry="2.7" transform="rotate(-164 194.9 180.2)"/><ellipse cx="200.8" cy="181.6" rx="4.9" ry="2.7" transform="rotate(-163 200.8 181.6)"/><ellipse cx="206.7" cy="184.6" rx="4.9" ry="2.7" transform="rotate(-167 206.7 184.6)"/><ellipse cx="214.2" cy="187.6" rx="4.9" ry="2.7" transform="rotate(-176 214.2 187.6)"/><ellipse cx="193.4" cy="190.5" rx="4.9" ry="2.7" transform="rotate(175 193.4 190.5)"/><ellipse cx="199.3" cy="193.5" rx="4.9" ry="2.7" transform="rotate(167 199.3 193.5)"/><ellipse cx="205.3" cy="196.5" rx="4.9" ry="2.7" transform="rotate(154 205.3 196.5)"/><ellipse cx="196.4" cy="199.4" rx="4.9" ry="2.7" transform="rotate(156 196.4 199.4)"/><ellipse cx="202.3" cy="200.9" rx="4.9" ry="2.7" transform="rotate(147 202.3 200.9)"/><ellipse cx="209.7" cy="202.4" rx="4.9" ry="2.7" transform="rotate(131 209.7 202.4)"/><ellipse cx="218.6" cy="199.4" rx="4.9" ry="2.7" transform="rotate(107 218.6 199.4)"/><ellipse cx="224.5" cy="200.9" rx="4.9" ry="2.7" transform="rotate(79 224.5 200.9)"/><ellipse cx="232.0" cy="200.9" rx="4.9" ry="2.7" transform="rotate(52 232.0 200.9)"/><ellipse cx="197.8" cy="206.9" rx="4.9" ry="2.7" transform="rotate(142 197.8 206.9)"/><ellipse cx="205.3" cy="208.3" rx="4.9" ry="2.7" transform="rotate(130 205.3 208.3)"/><ellipse cx="212.7" cy="209.8" rx="4.9" ry="2.7" transform="rotate(114 212.7 209.8)"/><ellipse cx="223.1" cy="214.3" rx="4.9" ry="2.7" transform="rotate(88 223.1 214.3)"/><ellipse cx="236.4" cy="211.3" rx="4.9" ry="2.7" transform="rotate(58 236.4 211.3)"/><ellipse cx="243.8" cy="205.4" rx="4.9" ry="2.7" transform="rotate(38 243.8 205.4)"/><ellipse cx="248.3" cy="198.0" rx="4.9" ry="2.7" transform="rotate(20 248.3 198.0)"/><ellipse cx="252.7" cy="189.1" rx="4.9" ry="2.7" transform="rotate(2 252.7 189.1)"/><ellipse cx="246.8" cy="180.2" rx="4.9" ry="2.7" transform="rotate(-18 246.8 180.2)"/><ellipse cx="242.3" cy="175.7" rx="4.9" ry="2.7" transform="rotate(-32 242.3 175.7)"/><ellipse cx="234.9" cy="162.4" rx="4.9" ry="2.7" transform="rotate(-64 234.9 162.4)"/><ellipse cx="220.1" cy="157.9" rx="4.9" ry="2.7" transform="rotate(-94 220.1 157.9)"/><ellipse cx="209.7" cy="160.9" rx="4.9" ry="2.7" transform="rotate(-114 209.7 160.9)"/><ellipse cx="191.9" cy="186.1" rx="4.9" ry="2.7" transform="rotate(-176 191.9 186.1)"/><ellipse cx="223.1" cy="218.7" rx="4.9" ry="2.7" transform="rotate(88 223.1 218.7)"/></g>
<g fill="#d0d0f4" filter="url(#bl)"><ellipse cx="206.7" cy="166.8" rx="3.3" ry="1.4" transform="rotate(-126 206.7 166.8)"/><ellipse cx="211.2" cy="168.3" rx="3.3" ry="1.4" transform="rotate(-119 211.2 168.3)"/><ellipse cx="215.6" cy="171.3" rx="3.3" ry="1.4" transform="rotate(-111 215.6 171.3)"/><ellipse cx="202.3" cy="174.2" rx="3.3" ry="1.4" transform="rotate(-145 202.3 174.2)"/><ellipse cx="208.2" cy="177.2" rx="3.3" ry="1.4" transform="rotate(-142 208.2 177.2)"/><ellipse cx="194.9" cy="180.2" rx="3.3" ry="1.4" transform="rotate(-164 194.9 180.2)"/><ellipse cx="200.8" cy="181.6" rx="3.3" ry="1.4" transform="rotate(-163 200.8 181.6)"/><ellipse cx="206.7" cy="184.6" rx="3.3" ry="1.4" transform="rotate(-167 206.7 184.6)"/><ellipse cx="214.2" cy="187.6" rx="3.3" ry="1.4" transform="rotate(-176 214.2 187.6)"/><ellipse cx="193.4" cy="190.5" rx="3.3" ry="1.4" transform="rotate(175 193.4 190.5)"/><ellipse cx="199.3" cy="193.5" rx="3.3" ry="1.4" transform="rotate(167 199.3 193.5)"/><ellipse cx="205.3" cy="196.5" rx="3.3" ry="1.4" transform="rotate(154 205.3 196.5)"/><ellipse cx="196.4" cy="199.4" rx="3.3" ry="1.4" transform="rotate(156 196.4 199.4)"/><ellipse cx="202.3" cy="200.9" rx="3.3" ry="1.4" transform="rotate(147 202.3 200.9)"/><ellipse cx="209.7" cy="202.4" rx="3.3" ry="1.4" transform="rotate(131 209.7 202.4)"/><ellipse cx="218.6" cy="199.4" rx="3.3" ry="1.4" transform="rotate(107 218.6 199.4)"/><ellipse cx="224.5" cy="200.9" rx="3.3" ry="1.4" transform="rotate(79 224.5 200.9)"/><ellipse cx="232.0" cy="200.9" rx="3.3" ry="1.4" transform="rotate(52 232.0 200.9)"/><ellipse cx="197.8" cy="206.9" rx="3.3" ry="1.4" transform="rotate(142 197.8 206.9)"/><ellipse cx="205.3" cy="208.3" rx="3.3" ry="1.4" transform="rotate(130 205.3 208.3)"/><ellipse cx="212.7" cy="209.8" rx="3.3" ry="1.4" transform="rotate(114 212.7 209.8)"/><ellipse cx="223.1" cy="214.3" rx="3.3" ry="1.4" transform="rotate(88 223.1 214.3)"/><ellipse cx="236.4" cy="211.3" rx="3.3" ry="1.4" transform="rotate(58 236.4 211.3)"/><ellipse cx="243.8" cy="205.4" rx="3.3" ry="1.4" transform="rotate(38 243.8 205.4)"/><ellipse cx="248.3" cy="198.0" rx="3.3" ry="1.4" transform="rotate(20 248.3 198.0)"/><ellipse cx="252.7" cy="189.1" rx="3.3" ry="1.4" transform="rotate(2 252.7 189.1)"/><ellipse cx="246.8" cy="180.2" rx="3.3" ry="1.4" transform="rotate(-18 246.8 180.2)"/><ellipse cx="242.3" cy="175.7" rx="3.3" ry="1.4" transform="rotate(-32 242.3 175.7)"/><ellipse cx="234.9" cy="162.4" rx="3.3" ry="1.4" transform="rotate(-64 234.9 162.4)"/><ellipse cx="220.1" cy="157.9" rx="3.3" ry="1.4" transform="rotate(-94 220.1 157.9)"/><ellipse cx="209.7" cy="160.9" rx="3.3" ry="1.4" transform="rotate(-114 209.7 160.9)"/><ellipse cx="191.9" cy="186.1" rx="3.3" ry="1.4" transform="rotate(-176 191.9 186.1)"/><ellipse cx="223.1" cy="218.7" rx="3.3" ry="1.4" transform="rotate(88 223.1 218.7)"/></g></g></g>
<text x="189" y="148.1" font-size="12" text-anchor="start" fill="#1a1a1a" >NS5-3N<tspan font-size="8.2" dy="-3">Muar</tspan></text>
<path d="M349,49.3 V227 H530" fill="none" stroke="#3a3a3a" stroke-width="1.6"/>
<path d="M349,49.3 H352.2" stroke="#3a3a3a" stroke-width="1.4"/>
<path d="M349,74.7 H352.2" stroke="#3a3a3a" stroke-width="1.4"/>
<path d="M349,100.1 H352.2" stroke="#3a3a3a" stroke-width="1.4"/>
<path d="M349,125.5 H352.2" stroke="#3a3a3a" stroke-width="1.4"/>
<path d="M349,150.8 H352.2" stroke="#3a3a3a" stroke-width="1.4"/>
<path d="M349,176.2 H352.2" stroke="#3a3a3a" stroke-width="1.4"/>
<path d="M349,201.6 H352.2" stroke="#3a3a3a" stroke-width="1.4"/>
<text x="334.79999999999995" y="53.7" font-size="12" text-anchor="end" fill="#1a1a1a">1 x 10</text><text x="335.4" y="50.4" font-size="8.2" fill="#1a1a1a">9</text>
<text x="334.79999999999995" y="79.1" font-size="12" text-anchor="end" fill="#1a1a1a">1 x 10</text><text x="335.4" y="75.8" font-size="8.2" fill="#1a1a1a">8</text>
<text x="334.79999999999995" y="104.5" font-size="12" text-anchor="end" fill="#1a1a1a">1 x 10</text><text x="335.4" y="101.2" font-size="8.2" fill="#1a1a1a">7</text>
<text x="334.79999999999995" y="129.9" font-size="12" text-anchor="end" fill="#1a1a1a">1 x 10</text><text x="335.4" y="126.6" font-size="8.2" fill="#1a1a1a">6</text>
<text x="334.79999999999995" y="155.2" font-size="12" text-anchor="end" fill="#1a1a1a">1 x 10</text><text x="335.4" y="151.9" font-size="8.2" fill="#1a1a1a">5</text>
<text x="334.79999999999995" y="180.6" font-size="12" text-anchor="end" fill="#1a1a1a">1 x 10</text><text x="335.4" y="177.3" font-size="8.2" fill="#1a1a1a">4</text>
<text x="334.79999999999995" y="206.0" font-size="12" text-anchor="end" fill="#1a1a1a">1 x 10</text><text x="335.4" y="202.7" font-size="8.2" fill="#1a1a1a">3</text>
<text x="334.79999999999995" y="231.4" font-size="12" text-anchor="end" fill="#1a1a1a">1 x 10</text><text x="335.4" y="228.1" font-size="8.2" fill="#1a1a1a">2</text>
<text x="371.6" y="244.4" font-size="11.5" text-anchor="middle" fill="#1a1a1a" >0</text>
<text x="416.9" y="244.4" font-size="11.5" text-anchor="middle" fill="#1a1a1a" >1</text>
<text x="462.1" y="244.4" font-size="11.5" text-anchor="middle" fill="#1a1a1a" >2</text>
<text x="507.4" y="244.4" font-size="11.5" text-anchor="middle" fill="#1a1a1a" >3</text>
<text x="442.2" y="258.8" font-size="12.2" text-anchor="middle" fill="#1a1a1a" >Day post infection</text>
<text x="0" y="0" font-size="12.2" text-anchor="middle" fill="#1a1a1a" transform="translate(291.7,135.5) rotate(-90)">Infectious titer (PFU/mL)</text>
<path d="M371.6,189 V202.6 M369.4,189 H373.8 M369.4,202.6 H373.8" stroke="#505050" stroke-width="1.1" fill="none"/>
<path d="M416.9,121 V127 M414.7,121 H419.1 M414.7,127 H419.1" stroke="#505050" stroke-width="1.1" fill="none"/>
<path d="M416.9,146 V149 M414.7,146 H419.1 M414.7,149 H419.1" stroke="#505050" stroke-width="1.1" fill="none"/>
<path d="M416.9,133 V139 M414.7,133 H419.1 M414.7,139 H419.1" stroke="#505050" stroke-width="1.1" fill="none"/>
<path d="M462.1,68 V72 M459.9,68 H464.3 M459.9,72 H464.3" stroke="#505050" stroke-width="1.1" fill="none"/>
<path d="M462.1,88 V96 M459.9,88 H464.3 M459.9,96 H464.3" stroke="#505050" stroke-width="1.1" fill="none"/>
<path d="M507.4,56.5 V59.5 M505.2,56.5 H509.6 M505.2,59.5 H509.6" stroke="#505050" stroke-width="1.1" fill="none"/>
<path d="M507.4,62 V70 M505.2,62 H509.6 M505.2,70 H509.6" stroke="#505050" stroke-width="1.1" fill="none"/>
<polyline points="371.6,200.2 416.9,123.6 462.1,70.3 507.4,57.6" fill="none" stroke="#0a6ad0" stroke-width="3.2" stroke-linejoin="round" stroke-linecap="round"/>
<polyline points="371.6,190.6 416.9,147.7 462.1,97.3 507.4,69" fill="none" stroke="#fb7a28" stroke-width="3.2" stroke-linejoin="round" stroke-linecap="round"/>
<polyline points="371.6,195 416.9,129.6 462.1,75.9 507.4,64.3" fill="none" stroke="#a6a6a6" stroke-width="3.2" stroke-linejoin="round" stroke-linecap="round"/>
<polyline points="371.6,198.4 416.9,137.5 462.1,93.3 507.4,68.4" fill="none" stroke="#ffc000" stroke-width="3.2" stroke-linejoin="round" stroke-linecap="round"/>
<polyline points="371.6,193.2 416.9,141.7 462.1,92.2 507.4,64.3" fill="none" stroke="#92c9f0" stroke-width="3.2" stroke-linejoin="round" stroke-linecap="round"/>
<polyline points="371.6,196.9 416.9,125 462.1,74.9 507.4,57.6" fill="none" stroke="#3aaa35" stroke-width="3.2" stroke-linejoin="round" stroke-linecap="round"/>
<path d="M444,145.5 H463" stroke="#0a6ad0" stroke-width="3.2"/>
<text x="467.8" y="149.6" font-size="11.2" text-anchor="start" fill="#1a1a1a" >Mie/41/2002</text>
<path d="M444,158.6 H463" stroke="#fb7a28" stroke-width="3.2"/>
<text x="467.8" y="162.7" font-size="11.2" text-anchor="start" fill="#1a1a1a" >Muar</text>
<path d="M444,171.6 H463" stroke="#a6a6a6" stroke-width="3.2"/>
<text x="467.8" y="175.7" font-size="11.2" text-anchor="start" fill="#1a1a1a" >5NCME<tspan font-size="7.5" dy="-4">Muar</tspan></text>
<path d="M444,184.7 H463" stroke="#ffc000" stroke-width="3.2"/>
<text x="467.8" y="188.8" font-size="11.2" text-anchor="start" fill="#1a1a1a" >NS1-3<tspan font-size="7.5" dy="-4">Muar</tspan></text>
<path d="M444,197.7 H463" stroke="#92c9f0" stroke-width="3.2"/>
<text x="467.8" y="201.8" font-size="11.2" text-anchor="start" fill="#1a1a1a" >NS4A-5<tspan font-size="7.5" dy="-4">Muar</tspan></text>
<path d="M444,210.8 H463" stroke="#3aaa35" stroke-width="3.2"/>
<text x="467.8" y="214.8" font-size="11.2" text-anchor="start" fill="#1a1a1a" >NS5-3N<tspan font-size="7.5" dy="-4">Muar</tspan></text>
<path d="M75.5,320.8 V498.6 H268" fill="none" stroke="#3a3a3a" stroke-width="1.6"/>
<path d="M75.5,320.8 H78.7" stroke="#3a3a3a" stroke-width="1.4"/>
<path d="M75.5,365.2 H78.7" stroke="#3a3a3a" stroke-width="1.4"/>
<path d="M75.5,409.7 H78.7" stroke="#3a3a3a" stroke-width="1.4"/>
<path d="M75.5,454.2 H78.7" stroke="#3a3a3a" stroke-width="1.4"/>
<text x="60.699999999999996" y="325.2" font-size="12" text-anchor="end" fill="#1a1a1a">1 x 10</text><text x="61.3" y="321.9" font-size="8.2" fill="#1a1a1a">6</text>
<text x="60.699999999999996" y="369.6" font-size="12" text-anchor="end" fill="#1a1a1a">1 x 10</text><text x="61.3" y="366.4" font-size="8.2" fill="#1a1a1a">5</text>
<text x="60.699999999999996" y="414.1" font-size="12" text-anchor="end" fill="#1a1a1a">1 x 10</text><text x="61.3" y="410.8" font-size="8.2" fill="#1a1a1a">4</text>
<text x="60.699999999999996" y="458.6" font-size="12" text-anchor="end" fill="#1a1a1a">1 x 10</text><text x="61.3" y="455.3" font-size="8.2" fill="#1a1a1a">3</text>
<text x="60.699999999999996" y="503.0" font-size="12" text-anchor="end" fill="#1a1a1a">1 x 10</text><text x="61.3" y="499.7" font-size="8.2" fill="#1a1a1a">2</text>
<text x="99.6" y="516.8" font-size="11.5" text-anchor="middle" fill="#1a1a1a" >0</text>
<text x="147.7" y="516.8" font-size="11.5" text-anchor="middle" fill="#1a1a1a" >1</text>
<text x="195.8" y="516.8" font-size="11.5" text-anchor="middle" fill="#1a1a1a" >2</text>
<text x="243.9" y="516.8" font-size="11.5" text-anchor="middle" fill="#1a1a1a" >3</text>
<text x="175.3" y="529.8" font-size="12.2" text-anchor="middle" fill="#1a1a1a" >Day post infection</text>
<text x="0" y="0" font-size="12.2" text-anchor="middle" fill="#1a1a1a" transform="translate(16.1,408.1) rotate(-90)">Infectious titer (PFU/mL)</text>
<path d="M99.6,423 V443 M97.4,423 H101.8 M97.4,443 H101.8" stroke="#505050" stroke-width="1.1" fill="none"/>
<path d="M147.7,421.5 V428.2 M145.5,421.5 H149.9 M145.5,428.2 H149.9" stroke="#505050" stroke-width="1.1" fill="none"/>
<path d="M147.7,449 V458.6 M145.5,449 H149.9 M145.5,458.6 H149.9" stroke="#505050" stroke-width="1.1" fill="none"/>
<path d="M147.7,443 V447 M145.5,443 H149.9 M145.5,447 H149.9" stroke="#505050" stroke-width="1.1" fill="none"/>
<path d="M195.8,412 V419 M193.6,412 H198.0 M193.6,419 H198.0" stroke="#505050" stroke-width="1.1" fill="none"/>
<path d="M195.8,362 V366 M193.6,362 H198.0 M193.6,366 H198.0" stroke="#505050" stroke-width="1.1" fill="none"/>
<path d="M195.8,376 V383 M193.6,376 H198.0 M193.6,383 H198.0" stroke="#505050" stroke-width="1.1" fill="none"/>
<path d="M243.9,347 V357 M241.7,347 H246.1 M241.7,357 H246.1" stroke="#505050" stroke-width="1.1" fill="none"/>
<path d="M243.9,369 V377 M241.7,369 H246.1 M241.7,377 H246.1" stroke="#505050" stroke-width="1.1" fill="none"/>
<path d="M243.9,412 V420 M241.7,412 H246.1 M241.7,420 H246.1" stroke="#505050" stroke-width="1.1" fill="none"/>
<path d="M243.9,432 V439 M241.7,432 H246.1 M241.7,439 H246.1" stroke="#505050" stroke-width="1.1" fill="none"/>
<polyline points="99.6,439 147.7,397.6 195.8,364.7 243.9,350.4" fill="none" stroke="#0a6ad0" stroke-width="3.2" stroke-linejoin="round" stroke-linecap="round"/>
<polyline points="99.6,425.2 147.7,424.2 195.8,418 243.9,417" fill="none" stroke="#fb7a28" stroke-width="3.2" stroke-linejoin="round" stroke-linecap="round"/>
<polyline points="99.6,428.2 147.7,406.5 195.8,378.1 243.9,351.7" fill="none" stroke="#a6a6a6" stroke-width="3.2" stroke-linejoin="round" stroke-linecap="round"/>
<polyline points="99.6,431.9 147.7,452.7 195.8,433 243.9,435.4" fill="none" stroke="#ffc000" stroke-width="3.2" stroke-linejoin="round" stroke-linecap="round"/>
<polyline points="99.6,430.4 147.7,445.3 195.8,415.6 243.9,415.6" fill="none" stroke="#92c9f0" stroke-width="3.2" stroke-linejoin="round" stroke-linecap="round"/>
<polyline points="99.6,434.9 147.7,444.5 195.8,380.1 243.9,372.9" fill="none" stroke="#3aaa35" stroke-width="3.2" stroke-linejoin="round" stroke-linecap="round"/>
<path d="M81,308.3 H99.2" stroke="#0a6ad0" stroke-width="3.2"/>
<text x="104.5" y="312.4" font-size="11.2" text-anchor="start" fill="#1a1a1a" >Mie/41/2002</text>
<path d="M81,321.5 H99.2" stroke="#fb7a28" stroke-width="3.2"/>
<text x="104.5" y="325.6" font-size="11.2" text-anchor="start" fill="#1a1a1a" >Muar</text>
<path d="M81,334.7 H99.2" stroke="#a6a6a6" stroke-width="3.2"/>
<text x="104.5" y="338.8" font-size="11.2" text-anchor="start" fill="#1a1a1a" >5NCME<tspan font-size="7.5" dy="-4">Muar</tspan></text>
<path d="M81,347.9 H99.2" stroke="#ffc000" stroke-width="3.2"/>
<text x="104.5" y="352.0" font-size="11.2" text-anchor="start" fill="#1a1a1a" >NS1-3<tspan font-size="7.5" dy="-4">Muar</tspan></text>
<path d="M81,361.1 H99.2" stroke="#92c9f0" stroke-width="3.2"/>
<text x="104.5" y="365.2" font-size="11.2" text-anchor="start" fill="#1a1a1a" >NS4A-5<tspan font-size="7.5" dy="-4">Muar</tspan></text>
<path d="M81,374.3 H99.2" stroke="#3aaa35" stroke-width="3.2"/>
<text x="104.5" y="378.4" font-size="11.2" text-anchor="start" fill="#1a1a1a" >NS5-3N<tspan font-size="7.5" dy="-4">Muar</tspan></text>
<path d="M349.2,320.6 V498.7 H540.6" fill="none" stroke="#3a3a3a" stroke-width="1.6"/>
<path d="M349.2,320.6 H352.4" stroke="#3a3a3a" stroke-width="1.4"/>
<path d="M349.2,356.2 H352.4" stroke="#3a3a3a" stroke-width="1.4"/>
<path d="M349.2,391.8 H352.4" stroke="#3a3a3a" stroke-width="1.4"/>
<path d="M349.2,427.5 H352.4" stroke="#3a3a3a" stroke-width="1.4"/>
<path d="M349.2,463.1 H352.4" stroke="#3a3a3a" stroke-width="1.4"/>
<text x="334.09999999999997" y="325.0" font-size="12" text-anchor="end" fill="#1a1a1a">1 x 10</text><text x="334.7" y="321.7" font-size="8.2" fill="#1a1a1a">8</text>
<text x="334.09999999999997" y="360.6" font-size="12" text-anchor="end" fill="#1a1a1a">1 x 10</text><text x="334.7" y="357.3" font-size="8.2" fill="#1a1a1a">7</text>
<text x="334.09999999999997" y="396.2" font-size="12" text-anchor="end" fill="#1a1a1a">1 x 10</text><text x="334.7" y="392.9" font-size="8.2" fill="#1a1a1a">6</text>
<text x="334.09999999999997" y="431.9" font-size="12" text-anchor="end" fill="#1a1a1a">1 x 10</text><text x="334.7" y="428.6" font-size="8.2" fill="#1a1a1a">5</text>
<text x="334.09999999999997" y="467.5" font-size="12" text-anchor="end" fill="#1a1a1a">1 x 10</text><text x="334.7" y="464.2" font-size="8.2" fill="#1a1a1a">4</text>
<text x="334.09999999999997" y="503.1" font-size="12" text-anchor="end" fill="#1a1a1a">1 x 10</text><text x="334.7" y="499.8" font-size="8.2" fill="#1a1a1a">3</text>
<text x="373.1" y="516.8" font-size="11.5" text-anchor="middle" fill="#1a1a1a" >0</text>
<text x="421.0" y="516.8" font-size="11.5" text-anchor="middle" fill="#1a1a1a" >1</text>
<text x="468.8" y="516.8" font-size="11.5" text-anchor="middle" fill="#1a1a1a" >2</text>
<text x="516.7" y="516.8" font-size="11.5" text-anchor="middle" fill="#1a1a1a" >3</text>
<text x="446.6" y="529.8" font-size="12.2" text-anchor="middle" fill="#1a1a1a" >Day post infection</text>
<text x="0" y="0" font-size="12.2" text-anchor="middle" fill="#1a1a1a" transform="translate(288.1,408.1) rotate(-90)">Infectious titer (PFU/mL)</text>
<path d="M373.1,462 V472 M370.9,462 H375.3 M370.9,472 H375.3" stroke="#505050" stroke-width="1.1" fill="none"/>
<path d="M421.0,392 V401 M418.8,392 H423.2 M418.8,401 H423.2" stroke="#505050" stroke-width="1.1" fill="none"/>
<path d="M421.0,408 V425 M418.8,408 H423.2 M418.8,425 H423.2" stroke="#505050" stroke-width="1.1" fill="none"/>
<path d="M421.0,441 V448 M418.8,441 H423.2 M418.8,448 H423.2" stroke="#505050" stroke-width="1.1" fill="none"/>
<path d="M421.0,440 V461 M418.8,440 H423.2 M418.8,461 H423.2" stroke="#505050" stroke-width="1.1" fill="none"/>
<path d="M421.0,477.8 V486.3 M418.8,477.8 H423.2 M418.8,486.3 H423.2" stroke="#505050" stroke-width="1.1" fill="none"/>
<path d="M468.8,357 V364 M466.6,357 H471.0 M466.6,364 H471.0" stroke="#505050" stroke-width="1.1" fill="none"/>
<path d="M468.8,364 V383 M466.6,364 H471.0 M466.6,383 H471.0" stroke="#505050" stroke-width="1.1" fill="none"/>
<path d="M468.8,391 V399 M466.6,391 H471.0 M466.6,399 H471.0" stroke="#505050" stroke-width="1.1" fill="none"/>
<path d="M468.8,411 V418 M466.6,411 H471.0 M466.6,418 H471.0" stroke="#505050" stroke-width="1.1" fill="none"/>
<path d="M468.8,432 V438 M466.6,432 H471.0 M466.6,438 H471.0" stroke="#505050" stroke-width="1.1" fill="none"/>
<path d="M516.7,338.3 V352 M514.5,338.3 H518.9 M514.5,352 H518.9" stroke="#505050" stroke-width="1.1" fill="none"/>
<path d="M516.7,348 V364 M514.5,348 H518.9 M514.5,364 H518.9" stroke="#505050" stroke-width="1.1" fill="none"/>
<path d="M516.7,394 V402 M514.5,394 H518.9 M514.5,402 H518.9" stroke="#505050" stroke-width="1.1" fill="none"/>
<path d="M516.7,409.5 V423.7 M514.5,409.5 H518.9 M514.5,423.7 H518.9" stroke="#505050" stroke-width="1.1" fill="none"/>
<path d="M516.7,435.2 V453.2 M514.5,435.2 H518.9 M514.5,453.2 H518.9" stroke="#505050" stroke-width="1.1" fill="none"/>
<polyline points="373.1,467.6 421.0,396.7 468.8,360 516.7,344.7" fill="none" stroke="#0a6ad0" stroke-width="3.2" stroke-linejoin="round" stroke-linecap="round"/>
<polyline points="373.1,466 421.0,445 468.8,414.4 516.7,414.4" fill="none" stroke="#fb7a28" stroke-width="3.2" stroke-linejoin="round" stroke-linecap="round"/>
<polyline points="373.1,466 421.0,411.7 468.8,372.6 516.7,351.7" fill="none" stroke="#a6a6a6" stroke-width="3.2" stroke-linejoin="round" stroke-linecap="round"/>
<polyline points="373.1,469.8 421.0,480.7 468.8,434.7 516.7,441.2" fill="none" stroke="#ffc000" stroke-width="3.2" stroke-linejoin="round" stroke-linecap="round"/>
<polyline points="373.1,467 421.0,452.4 468.8,395.6 516.7,398.1" fill="none" stroke="#92c9f0" stroke-width="3.2" stroke-linejoin="round" stroke-linecap="round"/>
<polyline points="373.1,467 421.0,420.9 468.8,367.1 516.7,360.9" fill="none" stroke="#3aaa35" stroke-width="3.2" stroke-linejoin="round" stroke-linecap="round"/>
<path d="M356,308.3 H374.2" stroke="#0a6ad0" stroke-width="3.2"/>
<text x="379" y="312.4" font-size="11.2" text-anchor="start" fill="#1a1a1a" >Mie/41/2002</text>
<path d="M356,321.5 H374.2" stroke="#fb7a28" stroke-width="3.2"/>
<text x="379" y="325.6" font-size="11.2" text-anchor="start" fill="#1a1a1a" >Muar</text>
<path d="M356,334.7 H374.2" stroke="#a6a6a6" stroke-width="3.2"/>
<text x="379" y="338.8" font-size="11.2" text-anchor="start" fill="#1a1a1a" >5NCME<tspan font-size="7.5" dy="-4">Muar</tspan></text>
<path d="M356,347.9 H374.2" stroke="#ffc000" stroke-width="3.2"/>
<text x="379" y="352.0" font-size="11.2" text-anchor="start" fill="#1a1a1a" >NS1-3<tspan font-size="7.5" dy="-4">Muar</tspan></text>
<path d="M356,361.1 H374.2" stroke="#92c9f0" stroke-width="3.2"/>
<text x="379" y="365.2" font-size="11.2" text-anchor="start" fill="#1a1a1a" >NS4A-5<tspan font-size="7.5" dy="-4">Muar</tspan></text>
<path d="M356,374.3 H374.2" stroke="#3aaa35" stroke-width="3.2"/>
<text x="379" y="378.4" font-size="11.2" text-anchor="start" fill="#1a1a1a" >NS5-3N<tspan font-size="7.5" dy="-4">Muar</tspan></text>
</svg></body></html>
